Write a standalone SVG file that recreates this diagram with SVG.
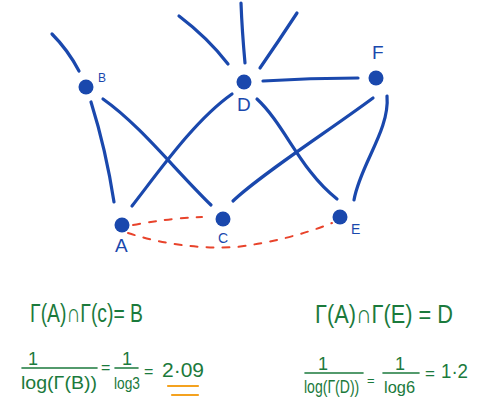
<svg xmlns="http://www.w3.org/2000/svg" width="492" height="406" viewBox="0 0 492 406">
<style>
.e{fill:none;stroke:#1a48ad;stroke-width:3.2;stroke-linecap:round}
.r{fill:none;stroke:#e8432b;stroke-width:2;stroke-dasharray:7 9;stroke-linecap:round}
.n{fill:#1a48ad}
.l{fill:#1a48ad;font-family:"Liberation Sans",sans-serif}
.g{fill:#1b7a3c;font-family:"Liberation Sans",sans-serif}
.gl{stroke:#1b7a3c;stroke-width:1.6;stroke-linecap:round}
.o{stroke:#f4a21f;stroke-width:2.2;stroke-linecap:round}
</style>
<rect width="492" height="406" fill="#fff"/>
<g id="connectors">
<path class="e" d="M52,34 Q68,50 79,71"/>
<path class="e" d="M179,16 Q208,38 228,64"/>
<path class="e" d="M241,3 Q242,30 245,63"/>
<path class="e" d="M297,13 Q278,42 260,68"/>
<path class="e" d="M263,81 Q310,78 358,78"/>
<path class="e" d="M91,102 Q106,150 114,202"/>
<path class="e" d="M103,99 C140,125 175,170 211,205"/>
<path class="e" d="M232,94 C195,120 160,170 132,206"/>
<path class="e" d="M257,99 C285,125 300,170 337,199"/>
<path class="e" d="M373,98 C330,130 260,175 233,201"/>
<path class="e" d="M387,96 C390,130 360,165 354,200"/>
<path class="r" d="M133,225 Q170,218 202,217"/>
<path class="r" d="M128,233 Q180,250 237,247 Q290,240 332,223"/>
</g>
<g id="B"><circle class="n" cx="86" cy="87" r="7.5"/><text class="l" x="98" y="82" font-size="12">B</text></g>
<g id="D"><circle class="n" cx="244" cy="82" r="7.5"/><text class="l" x="237" y="111" font-size="19">D</text></g>
<g id="F"><circle class="n" cx="376" cy="78" r="7.5"/><text class="l" x="372" y="59" font-size="19">F</text></g>
<g id="A"><circle class="n" cx="122" cy="225" r="7.5"/><text class="l" x="115" y="252" font-size="19">A</text></g>
<g id="C"><circle class="n" cx="223" cy="219" r="7.5"/><text class="l" x="218" y="243" font-size="14">C</text></g>
<g id="E"><circle class="n" cx="340" cy="217" r="7.5"/><text class="l" x="351" y="234" font-size="14">E</text></g>
<g id="formula-left">
<text class="g" x="30" y="322" font-size="26" textLength="113" lengthAdjust="spacingAndGlyphs">Γ(A)∩Γ(c)= B</text>
<text class="g" x="28" y="365" font-size="18">1</text>
<line class="gl" x1="22" y1="368" x2="97" y2="368"/>
<text class="g" x="21" y="389" font-size="18" textLength="76" lengthAdjust="spacingAndGlyphs">log(Γ(B))</text>
<text class="g" x="101" y="373" font-size="16">=</text>
<text class="g" x="122" y="365" font-size="18">1</text>
<line class="gl" x1="115" y1="368" x2="138" y2="368"/>
<text class="g" x="114" y="389" font-size="17" textLength="26" lengthAdjust="spacingAndGlyphs">log3</text>
<text class="g" x="144" y="377" font-size="16">=</text>
<text class="g" x="162" y="377" font-size="20" textLength="42" lengthAdjust="spacingAndGlyphs">2·09</text>
<line class="o" x1="168" y1="386" x2="198" y2="386"/>
<line class="o" x1="172" y1="395" x2="198" y2="395"/>
</g>
<g id="formula-right">
<text class="g" x="315" y="323" font-size="26" textLength="138" lengthAdjust="spacingAndGlyphs">Γ(A)∩Γ(E) = D</text>
<text class="g" x="318" y="370" font-size="18">1</text>
<line class="gl" x1="305" y1="373" x2="363" y2="373"/>
<text class="g" transform="translate(304,393) scale(0.78,1)" font-size="18">log(Γ(D))</text>
<text class="g" x="367" y="385" font-size="13">=</text>
<text class="g" x="395" y="370" font-size="18">1</text>
<line class="gl" x1="383" y1="373" x2="419" y2="373"/>
<text class="g" x="384" y="393" font-size="17" textLength="31" lengthAdjust="spacingAndGlyphs">log6</text>
<text class="g" x="425" y="379" font-size="17">=</text>
<text class="g" x="441" y="378" font-size="20" textLength="27" lengthAdjust="spacingAndGlyphs">1·2</text>
</g>
</svg>
